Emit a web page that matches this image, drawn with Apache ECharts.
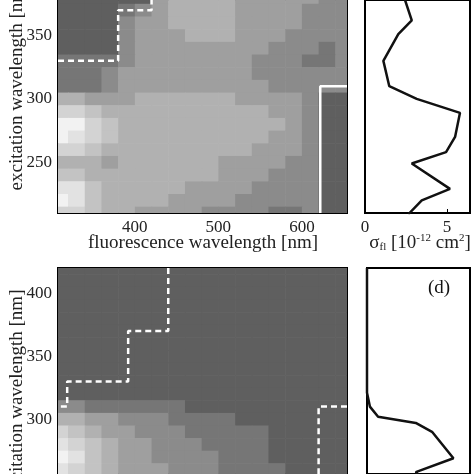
<!DOCTYPE html>
<html><head><meta charset="utf-8">
<script src="https://cdn.jsdelivr.net/npm/echarts@6/dist/echarts.min.js"></script>
<style>html,body{margin:0;padding:0;background:#fff}#c{width:474px;height:474px}</style>
</head><body><div id="c"></div>
<script>
const emission = [310,330,350,370,390,410,430,450,470,490,510,530,550,570,590,610,630,650];
const excitation = [420,410,400,390,380,370,360,350,340,330,320,310,300,290,280,270,260,250,240,230,220,210];
const levelsA = [
[0,0,0,0,0,0,3,4,4,4,3,3,3,3,3,3,2,2],
[0,0,0,0,0,0,3,4,4,4,3,3,3,3,3,3,2,2],
[0,0,0,0,0,0,3,4,4,4,3,3,3,3,3,3,2,2],
[0,0,0,0,0,0,3,4,4,4,3,3,3,3,3,3,2,2],
[0,0,0,0,0,0,3,4,4,4,4,3,3,3,3,3,2,2],
[0,0,0,0,1,2,3,4,4,4,4,3,3,3,3,2,2,2],
[0,0,0,0,2,3,3,4,4,4,4,3,3,3,3,2,2,2],
[0,0,0,0,2,3,3,3,4,4,4,3,3,3,2,2,2,2],
[0,0,0,0,2,3,3,3,3,3,3,3,3,2,2,2,1,2],
[1,1,1,1,2,3,3,3,3,3,3,3,2,2,2,1,1,2],
[1,1,1,2,3,3,3,3,3,3,3,3,2,2,2,2,2,2],
[1,1,1,2,3,3,3,3,3,3,3,3,3,2,2,2,2,2],
[4,4,3,3,3,4,4,4,4,4,4,3,3,3,3,2,0,0],
[6,6,5,4,4,4,4,4,4,4,4,4,4,3,3,2,0,0],
[8,8,6,5,4,4,4,4,4,4,4,4,4,4,3,2,0,0],
[8,7,6,5,4,4,4,4,4,4,4,4,4,3,3,2,0,0],
[6,6,5,4,4,4,4,4,4,4,4,4,3,3,3,2,0,0],
[4,4,4,3,4,4,4,4,4,4,3,3,3,3,2,2,0,0],
[5,5,4,4,4,4,4,4,4,4,3,3,3,2,2,2,0,0],
[7,7,5,4,4,4,4,4,3,3,3,3,2,2,2,2,0,0],
[8,7,5,4,4,4,4,3,3,3,3,2,2,2,2,2,0,0],
[6,6,5,4,4,3,3,3,3,2,2,2,2,1,1,2,0,0]];
const levelsC = [
[0,0,0,0,0,0,0,0,0,0,0,0,0,0,0,0,0,0],
[0,0,0,0,0,0,0,0,0,0,0,0,0,0,0,0,0,0],
[0,0,0,0,0,0,0,0,0,0,0,0,0,0,0,0,0,0],
[0,0,0,0,0,0,0,0,0,0,0,0,0,0,0,0,0,0],
[0,0,0,0,0,0,0,0,0,0,0,0,0,0,0,0,0,0],
[0,0,0,0,0,0,0,0,0,0,0,0,0,0,0,0,0,0],
[0,0,0,0,0,0,0,0,0,0,0,0,0,0,0,0,0,0],
[0,0,0,0,0,0,0,0,0,0,0,0,0,0,0,0,0,0],
[0,0,0,0,0,0,0,0,0,0,0,0,0,0,0,0,0,0],
[0,0,0,0,0,0,0,0,0,0,0,0,0,0,0,0,0,0],
[0,0,0,0,0,0,0,0,0,0,0,0,0,0,0,0,0,0],
[2,2,1,1,1,1,1,1,0,0,0,0,0,0,0,0,0,0],
[4,4,3,3,2,2,2,1,1,1,1,0,0,0,0,0,0,0],
[6,5,4,3,3,2,2,2,1,1,1,1,1,0,0,0,0,0],
[7,6,5,4,3,3,2,2,2,1,1,1,1,0,0,0,0,0],
[8,7,5,4,3,3,2,2,2,2,1,1,1,0,0,0,0,0],
[7,6,5,4,3,3,3,2,2,2,1,1,1,1,0,0,0,0],
[6,5,4,4,3,3,3,2,2,2,1,1,1,1,0,0,0,0],
[6,5,4,4,3,3,2,2,2,1,1,1,1,0,0,0,0,0],
[6,5,4,3,3,2,2,2,1,1,1,1,0,0,0,0,0,0],
[5,4,4,3,2,2,2,1,1,1,1,0,0,0,0,0,0,0],
[4,4,3,3,2,2,1,1,1,1,0,0,0,0,0,0,0,0]];
const sigmaB = [2.44,2.85,2.03,1.12,1.48,3.15,5.79,5.49,4.94,2.85,5.18,3.46,2.64];
const excB   = [378,362,351,330,310,300,289,270,258,249,229,220,209];
const sigmaD = [0,0,0.18,0.69,3.03,4.04,5.37,3.03,4.0,5.5,3.0];
const excD   = [420,321,310,302,297,290,269,258,245,230,210];
const maskA1 = [[308,330],[380,330],[380,370],[420,370],[420,420]];
const maskA2 = [[654,310],[622,310],[622,210]];
const maskC1 = [[440,420],[440,370],[392,370],[392,330],[319,330],[319,310],[308,310]];
const maskC2 = [[654,310],[620,310],[620,210]];
const xTicks = [400,500,600];
const yTicksTop = [250,300,350];
const yTicksBottom = [300,350,400];
const sTicks = [0,5];
const palette = ['#5f5f5f','#767676','#8b8b8b','#9f9f9f','#b1b1b1','#c3c3c3','#d3d3d3','#e2e2e2','#f2f2f2'];

function cells(levels){const d=[];levels.forEach((r,i)=>r.forEach((v,j)=>d.push([emission[j],excitation[i],v])));return d;}
const F='Liberation Serif';
const grids=[
 {left:58,top:0,width:289,height:213},
 {left:365,top:0,width:105,height:213},
 {left:58,top:268,width:289,height:206},
 {left:367,top:268,width:103,height:206}];
grids.forEach(g=>{g.show=true;g.borderColor='#000';g.borderWidth=2;g.backgroundColor='transparent';});
const yRange=[[210,378],[210,378],[256.5,420],[256.5,420]];
function xa(i){const isS=(i%2==1);return {gridIndex:i,type:'value',min:isS?0:308,max:isS?6.4:654,
 axisLine:{show:false},splitLine:{show:false},
 axisTick:{show:i<2,inside:true,length:4,lineStyle:{color:'#000'},customValues:isS?sTicks:xTicks},
 axisLabel:{show:i<2,fontFamily:F,fontSize:17,color:'#222',margin:6,customValues:isS?sTicks:xTicks}};}
function ya(i){const isS=(i%2==1);const t=i<2?yTicksTop:yTicksBottom;return {gridIndex:i,type:'value',min:yRange[i][0],max:yRange[i][1],
 axisLine:{show:false},splitLine:{show:false},
 axisTick:{show:!isS,inside:true,length:4,lineStyle:{color:'#000'},customValues:t},
 axisLabel:{show:!isS,fontFamily:F,fontSize:17,color:'#222',margin:6,customValues:t}};}
function rend(params,api){const x=api.value(0),y=api.value(1),lv=api.value(2);
 const p1=api.coord([x-10,y+5]),p2=api.coord([x+10,y-5]);
 return {type:'rect',shape:{x:p1[0],y:p1[1],width:p2[0]-p1[0]+0.6,height:p2[1]-p1[1]+0.6},style:{fill:palette[lv]}};}
const chart=echarts.init(document.getElementById('c'),null,{renderer:'canvas'});
chart.setOption({animation:false,grid:grids,
 xAxis:[xa(0),xa(1),xa(2),xa(3)],
 yAxis:[ya(0),ya(1),ya(2),ya(3)],
 series:[
  {type:'custom',xAxisIndex:0,yAxisIndex:0,clip:true,renderItem:rend,data:cells(levelsA),z:1},
  {type:'custom',xAxisIndex:2,yAxisIndex:2,clip:true,renderItem:rend,data:cells(levelsC),z:1},
  {type:'line',xAxisIndex:0,yAxisIndex:0,clip:true,data:maskA1,symbol:'none',lineStyle:{color:'#fff',width:2.5,type:[6,4]},z:3},
  {type:'line',xAxisIndex:0,yAxisIndex:0,clip:true,data:maskA2,symbol:'none',lineStyle:{color:'#fff',width:2.5},z:3},
  {type:'line',xAxisIndex:2,yAxisIndex:2,clip:true,data:maskC1,symbol:'none',lineStyle:{color:'#fff',width:2.5,type:[6,4]},z:3},
  {type:'line',xAxisIndex:2,yAxisIndex:2,clip:true,data:maskC2,symbol:'none',lineStyle:{color:'#fff',width:2.5,type:[6,4]},z:3},
  {type:'line',xAxisIndex:1,yAxisIndex:1,clip:true,data:sigmaB.map((s,i)=>[s,excB[i]]),symbol:'none',lineStyle:{color:'#111',width:2.5},z:3},
  {type:'line',xAxisIndex:3,yAxisIndex:3,clip:true,data:sigmaD.map((s,i)=>[s,excD[i]]),symbol:'none',lineStyle:{color:'#111',width:2.5},z:3}
 ],
 graphic:[
  {type:'text',x:203,y:243,style:{text:'fluorescence wavelength [nm]',font:'19px "Liberation Serif"',fill:'#222',align:'center',verticalAlign:'middle'}},
  {type:'text',x:17,y:86,rotation:Math.PI/2,style:{text:'excitation wavelength [nm]',font:'19px "Liberation Serif"',fill:'#222',align:'center',verticalAlign:'middle'}},
  {type:'text',x:17,y:394,rotation:Math.PI/2,style:{text:'excitation wavelength [nm]',font:'19px "Liberation Serif"',fill:'#222',align:'center',verticalAlign:'middle'}},
  {type:'text',x:420,y:243,style:{text:'{a|σ}{b|fl}{a| [10}{c|-12}{a| cm}{c|2}{a|]}',rich:{a:{font:'19px "Liberation Serif"',fill:'#222'},b:{font:'11px "Liberation Serif"',fill:'#222',padding:[8,0,0,0]},c:{font:'11px "Liberation Serif"',fill:'#222',padding:[0,0,10,0]}},align:'center',verticalAlign:'middle'}},
  {type:'text',x:68,y:279,style:{text:'(c)',font:'19px "Liberation Serif"',fill:'#fff'}},
  {type:'text',x:428,y:279,style:{text:'(d)',font:'19px "Liberation Serif"',fill:'#111'}}
 ]});
</script></body></html>
